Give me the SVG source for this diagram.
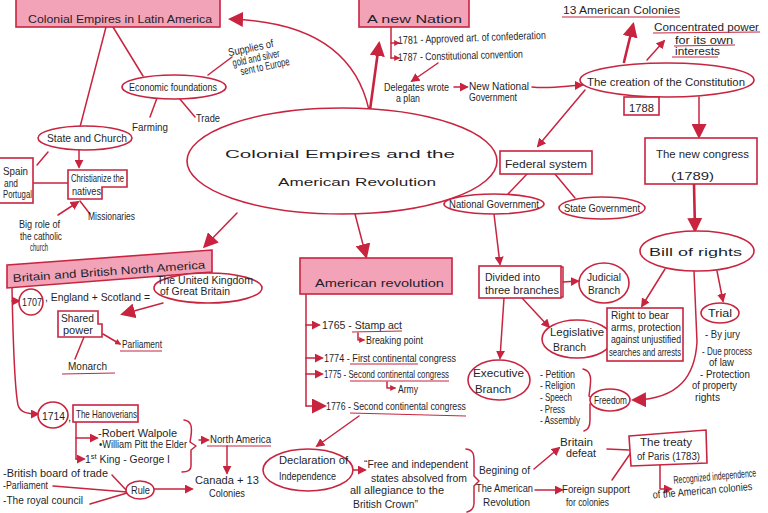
<svg xmlns="http://www.w3.org/2000/svg" width="768" height="513" viewBox="0 0 768 513">
<defs>
<marker id="a" viewBox="0 0 10 10" refX="8" refY="5" markerWidth="9" markerHeight="9" markerUnits="userSpaceOnUse" orient="auto"><path d="M0,0 L10,5 L0,10 z" fill="#c8243f"/></marker>
<marker id="b" viewBox="0 0 10 10" refX="8" refY="5" markerWidth="15" markerHeight="15" markerUnits="userSpaceOnUse" orient="auto"><path d="M0,0 L10,5 L0,10 z" fill="#c8243f"/></marker>
<marker id="s" viewBox="0 0 10 10" refX="8" refY="5" markerWidth="6" markerHeight="6" markerUnits="userSpaceOnUse" orient="auto"><path d="M0,0 L10,5 L0,10 z" fill="#c8243f"/></marker>
</defs>
<style>
.l{fill:none;stroke:#c8243f;stroke-width:1.5;stroke-linecap:round;stroke-linejoin:round}
.k{stroke-width:2.6}
.n{fill:#fff;stroke:#c8243f;stroke-width:1.6}
.p{fill:#f2a3b8;stroke:#c8243f;stroke-width:1.6}
.u{fill:none;stroke:#c8243f;stroke-width:1.2}
text{font-family:"Liberation Sans","DejaVu Sans",Arial,sans-serif;fill:#1f1f2a;font-size:11px}
</style>
<rect width="768" height="513" fill="#fff"/>

<g id="connectors">
<path class="l" d="M369,110 C358,60 320,22 231,19" marker-end="url(#b)"/>
<path class="l k" d="M370,110 L379,44" marker-end="url(#b)"/>
<path class="l" d="M391,27 L391,58"/>
<path class="l" d="M391,43 L399,43" marker-end="url(#s)"/>
<path class="l" d="M391,58 L399,58" marker-end="url(#s)"/>
<path class="l" d="M438,63 L412,81" marker-end="url(#a)"/>
<path class="l" d="M454,87 L467,87" marker-end="url(#a)"/>
<path class="l" d="M532,87 C550,89 565,86 582,85" marker-end="url(#a)"/>
<path class="l k" d="M624,62 L633,25" marker-end="url(#b)"/>
<path class="l" d="M647,60 L664,41" marker-end="url(#a)"/>
<path class="l" d="M699,97 L699,136" marker-end="url(#b)"/>
<path class="l" d="M585,90 L538,146" marker-end="url(#a)"/>
<path class="l k" d="M694,184 L695,230" marker-end="url(#b)"/>
<path class="l" d="M527,174 L508,194"/>
<path class="l" d="M555,174 L575,198"/>
<path class="l" d="M494,214 L500,264" marker-end="url(#a)"/>
<path class="l" d="M559,267 L563,267 L563,297 L559,297"/>
<path class="l" d="M563,282 L578,281" marker-end="url(#a)"/>
<path class="l" d="M522,298 L549,327" marker-end="url(#a)"/>
<path class="l" d="M504,298 L500,358" marker-end="url(#a)"/>
<path class="l" d="M665,269 L642,306" marker-end="url(#a)"/>
<path class="l" d="M717,271 L723,301" marker-end="url(#a)"/>
<path class="l" d="M694,271 L697,342 C695,375 680,399 634,400" marker-end="url(#b)"/>
<path class="l" d="M583,369 C592,371 591,380 590,388 L589,396 L594,400 L590,404 L590,420 C590,427 588,430 584,431"/>
<path class="l" d="M534,469 L559,448" marker-end="url(#a)"/>
<path class="l" d="M535,490 L562,490" marker-end="url(#a)"/>
<path class="l" d="M607,449 L629,450"/>
<path class="l" d="M612,480 L630,454"/>
<path class="l" d="M660,464 L660,489 L671,489" marker-end="url(#a)"/>
<path class="l" d="M466,449 C474,450 474,455 474,462 L474,476 L479,481 L474,486 L474,503 C474,509 471,511 467,512"/>
<path class="l" d="M353,470 L365,470" marker-end="url(#a)"/>
<path class="l" d="M359,416 L317,446" marker-end="url(#a)"/>
<path class="l" d="M355,214 L366,256" marker-end="url(#b)"/>
<path class="l" d="M306,294 L306,406"/>
<path class="l" d="M306,325 L319,325" marker-end="url(#a)"/>
<path class="l" d="M306,358 L322,358" marker-end="url(#a)"/>
<path class="l" d="M306,374 L322,374" marker-end="url(#a)"/>
<path class="l" d="M306,406 L324,406" marker-end="url(#b)"/>
<path class="l" d="M358,333 L358,340 L364,340" marker-end="url(#s)"/>
<path class="l" d="M387,382 L387,388 L395,388" marker-end="url(#s)"/>
<path class="l" d="M237,213 L205,246" marker-end="url(#b)"/>
<path class="l" d="M113,27 L143,76"/>
<path class="l" d="M106,27 L80,127"/>
<path class="l" d="M208,75 L232,57"/>
<path class="l" d="M157,98 L150,117"/>
<path class="l" d="M179,98 L195,117"/>
<path class="l" d="M48,152 L37,165"/>
<path class="l" d="M79,150 L79,167" marker-end="url(#a)"/>
<path class="l" d="M33,183 L68,183"/>
<path class="l" d="M58,215 L78,202" marker-end="url(#a)"/>
<path class="l" d="M90,214 L80,201"/>
<path class="l" d="M12,288 C13,340 15,390 18,405 C20,412 26,414 38,414" marker-end="url(#a)"/>
<path class="l" d="M12,301 L19,301" marker-end="url(#a)"/>
<path class="l" d="M163,303 L123,314" marker-end="url(#b)"/>
<path class="l" d="M103,334 L120,344" marker-end="url(#s)"/>
<path class="l" d="M84,337 L75,359"/>
<path class="l" d="M76,422 L76,459"/>
<path class="l" d="M76,438 L97,438" marker-end="url(#a)"/>
<path class="l" d="M76,459 L84,459" marker-end="url(#a)"/>
<path class="l" d="M184,420 C192,421 192,428 191,436 L190,442 L196,446 L191,450 L191,466 C191,470 188,472 182,472"/>
<path class="l" d="M199,440 L208,440" marker-end="url(#a)"/>
<path class="l" d="M227,446 L227,473" marker-end="url(#a)"/>
<path class="l" d="M154,489 L192,489" marker-end="url(#a)"/>
<path class="l" d="M112,475 L127,491 M53,486 L127,492 M90,504 L127,493"/>
</g>

<g id="n-center">
<ellipse class="n" cx="342" cy="161" rx="155" ry="53"/>
<text x="225" y="158" font-size="22" textLength="230" lengthAdjust="spacingAndGlyphs">Colonial Empires and the</text>
<text x="278" y="186" font-size="22" textLength="158" lengthAdjust="spacingAndGlyphs">American Revolution</text>
</g>

<g id="n-latin">
<rect class="p" x="16" y="-2" width="204" height="29"/>
<text x="28" y="23" font-size="17" textLength="184" lengthAdjust="spacingAndGlyphs">Colonial Empires in Latin America</text>
</g>
<g id="n-econ">
<ellipse class="n" cx="174" cy="87" rx="52" ry="12"/>
<text x="129" y="91" font-size="10" textLength="88" lengthAdjust="spacingAndGlyphs">Economic foundations</text>
</g>
<g id="n-supplies" transform="rotate(-12 255 58)">
<text x="230" y="51" font-size="10" textLength="46" lengthAdjust="spacingAndGlyphs">Supplies of</text>
<text x="232" y="62" font-size="8" textLength="48" lengthAdjust="spacingAndGlyphs">gold and silver</text>
<text x="238" y="72" font-size="8" textLength="50" lengthAdjust="spacingAndGlyphs">sent to Europe</text>
</g>
<g id="n-farming"><text x="132" y="131" textLength="36" lengthAdjust="spacingAndGlyphs">Farming</text></g>
<g id="n-trade"><text x="196" y="122" textLength="24" lengthAdjust="spacingAndGlyphs">Trade</text></g>
<g id="n-statechurch">
<ellipse class="n" cx="85" cy="138" rx="47" ry="12"/>
<text x="47" y="142" font-size="10" textLength="80" lengthAdjust="spacingAndGlyphs">State and Church</text>
</g>
<g id="n-spain">
<rect class="n" x="-2" y="158" width="35" height="45"/>
<text x="3" y="175" font-size="10" textLength="25" lengthAdjust="spacingAndGlyphs">Spain</text>
<text x="4" y="187" font-size="10" textLength="14" lengthAdjust="spacingAndGlyphs">and</text>
<text x="3" y="198" font-size="9" textLength="29" lengthAdjust="spacingAndGlyphs">Portugal</text>
</g>
<g id="n-christianize">
<path class="n" d="M68,170 L127,170 L127,187 L102,187 L102,199 L68,199 Z"/>
<text x="71" y="182" font-size="9" textLength="53" lengthAdjust="spacingAndGlyphs">Christianize the</text>
<text x="72" y="195" font-size="10" textLength="29" lengthAdjust="spacingAndGlyphs">natives</text>
</g>
<g id="n-bigrole">
<text x="19" y="228" font-size="10" textLength="41" lengthAdjust="spacingAndGlyphs">Big role of</text>
<text x="20" y="240" font-size="9" textLength="42" lengthAdjust="spacingAndGlyphs">the catholic</text>
<text x="30" y="251" font-size="8" textLength="18" lengthAdjust="spacingAndGlyphs">church</text>
</g>
<g id="n-missionaries"><text x="88" y="220" font-size="9" textLength="47" lengthAdjust="spacingAndGlyphs">Missionaries</text></g>

<g id="n-britain">
<path class="p" d="M7,265 L212,250 L212,272 L7,288 Z"/>
<text x="13" y="282" font-size="14" textLength="193" lengthAdjust="spacingAndGlyphs" transform="rotate(-4 13 282)">Britain and British North America</text>
</g>
<g id="n-1707">
<ellipse class="n" cx="31" cy="302" rx="12" ry="13"/>
<text x="22" y="306" font-size="10" textLength="20" lengthAdjust="spacingAndGlyphs">1707</text>
<text x="45" y="301" font-size="12" textLength="105" lengthAdjust="spacingAndGlyphs">, England + Scotland =</text>
</g>
<g id="n-uk">
<ellipse class="n" cx="208" cy="288" rx="54" ry="15"/>
<text x="157" y="284" font-size="10" textLength="96" lengthAdjust="spacingAndGlyphs">The United Kingdom</text>
<text x="160" y="295" font-size="10" textLength="70" lengthAdjust="spacingAndGlyphs">of Great Britain</text>
</g>
<g id="n-shared">
<path class="n" d="M58,311 L98,311 L98,324 L102,324 L102,337 L58,337 Z"/>
<text x="61" y="322" textLength="33" lengthAdjust="spacingAndGlyphs">Shared</text>
<text x="63" y="334" textLength="30" lengthAdjust="spacingAndGlyphs">power</text>
</g>
<g id="n-parliament">
<text x="122" y="348" font-size="10" textLength="40" lengthAdjust="spacingAndGlyphs">Parliament</text>
<path class="u" d="M120,351 L162,351"/>
</g>
<g id="n-monarch">
<text x="68" y="370" textLength="39" lengthAdjust="spacingAndGlyphs">Monarch</text>
<path class="u" d="M62,374 L115,373"/>
</g>
<g id="n-1714">
<ellipse class="n" cx="53" cy="415" rx="15" ry="13"/>
<text x="42" y="420" font-size="12" textLength="23" lengthAdjust="spacingAndGlyphs">1714</text>
<text x="68" y="421" font-size="12">,</text>
</g>
<g id="n-hanover">
<rect class="n" x="73" y="405" width="65" height="17"/>
<text x="76" y="418" font-size="10" textLength="61" lengthAdjust="spacingAndGlyphs">The Hanoverians</text>
</g>
<g id="n-walpole">
<text x="98" y="437" textLength="79" lengthAdjust="spacingAndGlyphs">-Robert Walpole</text>
<text x="99" y="448" font-size="8.5" textLength="88" lengthAdjust="spacingAndGlyphs">•William Pitt the Elder</text>
</g>
<g id="n-george">
<text x="85" y="463" font-size="12" textLength="85" lengthAdjust="spacingAndGlyphs">1<tspan font-size="8" dy="-4">st</tspan><tspan dy="4"> King - George I</tspan></text>
</g>
<g id="n-northamerica">
<text x="210" y="443" font-size="10" textLength="61" lengthAdjust="spacingAndGlyphs">North America</text>
<path class="u" d="M207,446 L271,446"/>
</g>
<g id="n-canada">
<text x="195" y="484" font-size="12" textLength="64" lengthAdjust="spacingAndGlyphs">Canada + 13</text>
<text x="209" y="497" font-size="9" textLength="36" lengthAdjust="spacingAndGlyphs">Colonies</text>
</g>
<g id="n-rule">
<ellipse class="n" cx="140" cy="490" rx="14" ry="9"/>
<text x="131" y="494" font-size="9" textLength="19" lengthAdjust="spacingAndGlyphs">Rule</text>
</g>
<g id="n-ruleitems">
<text x="3" y="477" textLength="105" lengthAdjust="spacingAndGlyphs">-British board of trade</text>
<text x="3" y="489" font-size="10" textLength="45" lengthAdjust="spacingAndGlyphs">-Parliament</text>
<text x="3" y="504" font-size="10" textLength="80" lengthAdjust="spacingAndGlyphs">-The royal council</text>
</g>

<g id="n-newnation">
<rect class="p" x="359" y="-2" width="110" height="29"/>
<text x="367" y="23" font-size="17" textLength="95" lengthAdjust="spacingAndGlyphs">A new Nation</text>
</g>
<g id="n-1781"><text x="398" y="44" font-size="10" textLength="148" lengthAdjust="spacingAndGlyphs" transform="rotate(-2 398 44)">1781 - Approved art. of confederation</text></g>
<g id="n-1787"><text x="398" y="61" font-size="10" textLength="125" lengthAdjust="spacingAndGlyphs" transform="rotate(-1.5 398 61)">1787 - Constitutional convention</text></g>
<g id="n-delegates">
<text x="384" y="91" font-size="10" textLength="65" lengthAdjust="spacingAndGlyphs">Delegates wrote</text>
<text x="396" y="102" font-size="10" textLength="24" lengthAdjust="spacingAndGlyphs">a plan</text>
</g>
<g id="n-newnational">
<text x="469" y="90" font-size="10" textLength="60" lengthAdjust="spacingAndGlyphs">New National</text>
<text x="469" y="101" font-size="9" textLength="48" lengthAdjust="spacingAndGlyphs">Government</text>
</g>
<g id="n-creation">
<ellipse class="n" cx="667" cy="80" rx="87" ry="17"/>
<text x="587" y="86" font-size="12" textLength="158" lengthAdjust="spacingAndGlyphs">The creation of the Constitution</text>
</g>
<g id="n-1788">
<rect class="n" x="624" y="97" width="35" height="18"/>
<text x="629" y="112" font-size="12" textLength="25" lengthAdjust="spacingAndGlyphs">1788</text>
</g>
<g id="n-13colonies">
<text x="563" y="14" font-size="13" textLength="117" lengthAdjust="spacingAndGlyphs">13 American Colonies</text>
<path class="u" d="M562,17 L680,17"/>
</g>
<g id="n-concentrated">
<text x="654" y="31" font-size="11" textLength="105" lengthAdjust="spacingAndGlyphs">Concentrated power</text>
<path class="u" d="M653,33 L760,32"/>
<text x="675" y="44" textLength="58" lengthAdjust="spacingAndGlyphs">for its own</text>
<path class="u" d="M674,46 L735,45"/>
<text x="675" y="55" font-size="10" textLength="45" lengthAdjust="spacingAndGlyphs">interests</text>
<path class="u" d="M672,57 L718,57"/>
</g>
<g id="n-congress">
<rect class="n" x="645" y="138" width="112" height="46"/>
<text x="656" y="158" font-size="13" textLength="93" lengthAdjust="spacingAndGlyphs">The new congress</text>
<text x="671" y="180" font-size="15" textLength="43" lengthAdjust="spacingAndGlyphs">(1789)</text>
</g>
<g id="n-bill">
<ellipse class="n" cx="697" cy="251" rx="57" ry="20"/>
<text x="649" y="256" font-size="17" textLength="93" lengthAdjust="spacingAndGlyphs">Bill of rights</text>
</g>
<g id="n-federal">
<rect class="n" x="500" y="151" width="92" height="23"/>
<text x="505" y="168" font-size="13" textLength="82" lengthAdjust="spacingAndGlyphs">Federal system</text>
</g>
<g id="n-national">
<ellipse class="n" cx="494" cy="204" rx="50" ry="10"/>
<text x="449" y="208" font-size="9" textLength="90" lengthAdjust="spacingAndGlyphs">National Government</text>
</g>
<g id="n-state">
<ellipse class="n" cx="602" cy="208" rx="43" ry="11"/>
<text x="564" y="212" font-size="10" textLength="76" lengthAdjust="spacingAndGlyphs">State Government</text>
</g>
<g id="n-divided">
<rect class="n" x="479" y="266" width="82" height="32"/>
<text x="485" y="281" textLength="55" lengthAdjust="spacingAndGlyphs">Divided into</text>
<text x="485" y="294" textLength="74" lengthAdjust="spacingAndGlyphs">three branches</text>
</g>
<g id="n-judicial">
<ellipse class="n" cx="604" cy="283" rx="25" ry="20"/>
<text x="587" y="281" font-size="10" textLength="34" lengthAdjust="spacingAndGlyphs">Judicial</text>
<text x="588" y="294" font-size="10" textLength="32" lengthAdjust="spacingAndGlyphs">Branch</text>
</g>
<g id="n-legislative">
<ellipse class="n" cx="577" cy="339" rx="35" ry="19"/>
<text x="550" y="336" font-size="11" textLength="54" lengthAdjust="spacingAndGlyphs">Legislative</text>
<text x="553" y="351" font-size="11" textLength="33" lengthAdjust="spacingAndGlyphs">Branch</text>
</g>
<g id="n-executive">
<ellipse class="n" cx="499" cy="380" rx="31" ry="20"/>
<text x="473" y="377" font-size="11" textLength="51" lengthAdjust="spacingAndGlyphs">Executive</text>
<text x="475" y="393" font-size="11" textLength="36" lengthAdjust="spacingAndGlyphs">Branch</text>
</g>
<g id="n-rights">
<rect class="n" x="607" y="308" width="76" height="53"/>
<text x="611" y="319" font-size="9" textLength="58" lengthAdjust="spacingAndGlyphs">Right to bear</text>
<text x="611" y="331" font-size="9" textLength="70" lengthAdjust="spacingAndGlyphs">arms, protection</text>
<text x="611" y="343" font-size="9" textLength="70" lengthAdjust="spacingAndGlyphs">against unjustified</text>
<text x="609" y="356" font-size="8" textLength="72" lengthAdjust="spacingAndGlyphs">searches and arrests</text>
</g>
<g id="n-trial">
<ellipse class="n" cx="720" cy="313" rx="19" ry="10"/>
<text x="708" y="317" font-size="11" textLength="24" lengthAdjust="spacingAndGlyphs">Trial</text>
</g>
<g id="n-trialitems">
<text x="705" y="338" font-size="10" textLength="35" lengthAdjust="spacingAndGlyphs">- By jury</text>
<text x="702" y="355" font-size="9" textLength="50" lengthAdjust="spacingAndGlyphs">- Due process</text>
<text x="709" y="366" font-size="10" textLength="25" lengthAdjust="spacingAndGlyphs">of law</text>
<text x="700" y="378" font-size="10" textLength="50" lengthAdjust="spacingAndGlyphs">- Protection</text>
<text x="692" y="389" font-size="10" textLength="45" lengthAdjust="spacingAndGlyphs">of property</text>
<text x="695" y="401" font-size="9" textLength="25" lengthAdjust="spacingAndGlyphs">rights</text>
</g>
<g id="n-freedom">
<ellipse class="n" cx="610" cy="400" rx="20" ry="11"/>
<text x="594" y="404" font-size="9" textLength="33" lengthAdjust="spacingAndGlyphs">Freedom</text>
</g>
<g id="n-freedomitems">
<text x="540" y="378" font-size="9" textLength="35" lengthAdjust="spacingAndGlyphs">- Petition</text>
<text x="540" y="389" font-size="9" textLength="35" lengthAdjust="spacingAndGlyphs">- Religion</text>
<text x="540" y="401" font-size="9" textLength="32" lengthAdjust="spacingAndGlyphs">- Speech</text>
<text x="540" y="413" font-size="9" textLength="25" lengthAdjust="spacingAndGlyphs">- Press</text>
<text x="540" y="424" font-size="9" textLength="40" lengthAdjust="spacingAndGlyphs">- Assembly</text>
</g>
<g id="n-defeat">
<text x="560" y="446" font-size="11" textLength="33" lengthAdjust="spacingAndGlyphs">Britain</text>
<text x="566" y="457" font-size="11" textLength="30" lengthAdjust="spacingAndGlyphs">defeat</text>
</g>
<g id="n-treaty">
<path class="n" d="M629,436 L706,430 L707,463 L631,466 Z"/>
<text x="640" y="446" font-size="11" textLength="52" lengthAdjust="spacingAndGlyphs">The treaty</text>
<text x="637" y="460" font-size="10" textLength="63" lengthAdjust="spacingAndGlyphs">of Paris (1783)</text>
</g>
<g id="n-recognized" transform="rotate(-5 705 485)">
<text x="674" y="481" font-size="8" textLength="83" lengthAdjust="spacingAndGlyphs">Recognized independence</text>
<text x="652" y="494" font-size="9" textLength="100" lengthAdjust="spacingAndGlyphs">of the American colonies</text>
</g>
<g id="n-foreign">
<text x="562" y="493" font-size="11" textLength="68" lengthAdjust="spacingAndGlyphs">Foreign support</text>
<text x="566" y="506" font-size="9" textLength="43" lengthAdjust="spacingAndGlyphs">for colonies</text>
</g>
<g id="n-begining">
<text x="479" y="474" font-size="11" textLength="51" lengthAdjust="spacingAndGlyphs">Begining of</text>
<text x="476" y="492" font-size="11" textLength="57" lengthAdjust="spacingAndGlyphs">The American</text>
<text x="483" y="506" font-size="11" textLength="47" lengthAdjust="spacingAndGlyphs">Revolution</text>
</g>
<g id="n-quote">
<text x="364" y="468" font-size="11" textLength="104" lengthAdjust="spacingAndGlyphs">“Free and independent</text>
<text x="371" y="482" font-size="11" textLength="96" lengthAdjust="spacingAndGlyphs">states absolved from</text>
<text x="350" y="494" font-size="11" textLength="94" lengthAdjust="spacingAndGlyphs">all allegiance to the</text>
<text x="353" y="508" font-size="11" textLength="65" lengthAdjust="spacingAndGlyphs">British Crown”</text>
</g>
<g id="n-declaration">
<ellipse class="n" cx="308" cy="470" rx="45" ry="21"/>
<text x="279" y="464" font-size="12" textLength="69" lengthAdjust="spacingAndGlyphs">Declaration of</text>
<text x="279" y="480" font-size="11" textLength="57" lengthAdjust="spacingAndGlyphs">Independence</text>
</g>
<g id="n-amrev">
<rect class="p" x="300" y="258" width="152" height="36"/>
<text x="315" y="287" font-size="17" textLength="129" lengthAdjust="spacingAndGlyphs">American revolution</text>
</g>
<g id="n-amrevitems">
<text x="322" y="329" textLength="80" lengthAdjust="spacingAndGlyphs">1765 - Stamp act</text>
<path class="u" d="M352,332 L402,331"/>
<text x="366" y="344" font-size="9" textLength="57" lengthAdjust="spacingAndGlyphs">Breaking point</text>
<text x="324" y="362" font-size="10" textLength="132" lengthAdjust="spacingAndGlyphs">1774 - First continental congress</text>
<path class="u" d="M350,364 L418,364"/>
<text x="324" y="378" font-size="10" textLength="125" lengthAdjust="spacingAndGlyphs">1775 - Second continental congress</text>
<path class="u" d="M350,381 L449,381"/>
<text x="398" y="393" font-size="9" textLength="20" lengthAdjust="spacingAndGlyphs">Army</text>
<text x="326" y="410" font-size="11" textLength="140" lengthAdjust="spacingAndGlyphs">1776 - Second continental congress</text>
<path class="u" d="M350,413 L466,416"/>
</g>
</svg>
